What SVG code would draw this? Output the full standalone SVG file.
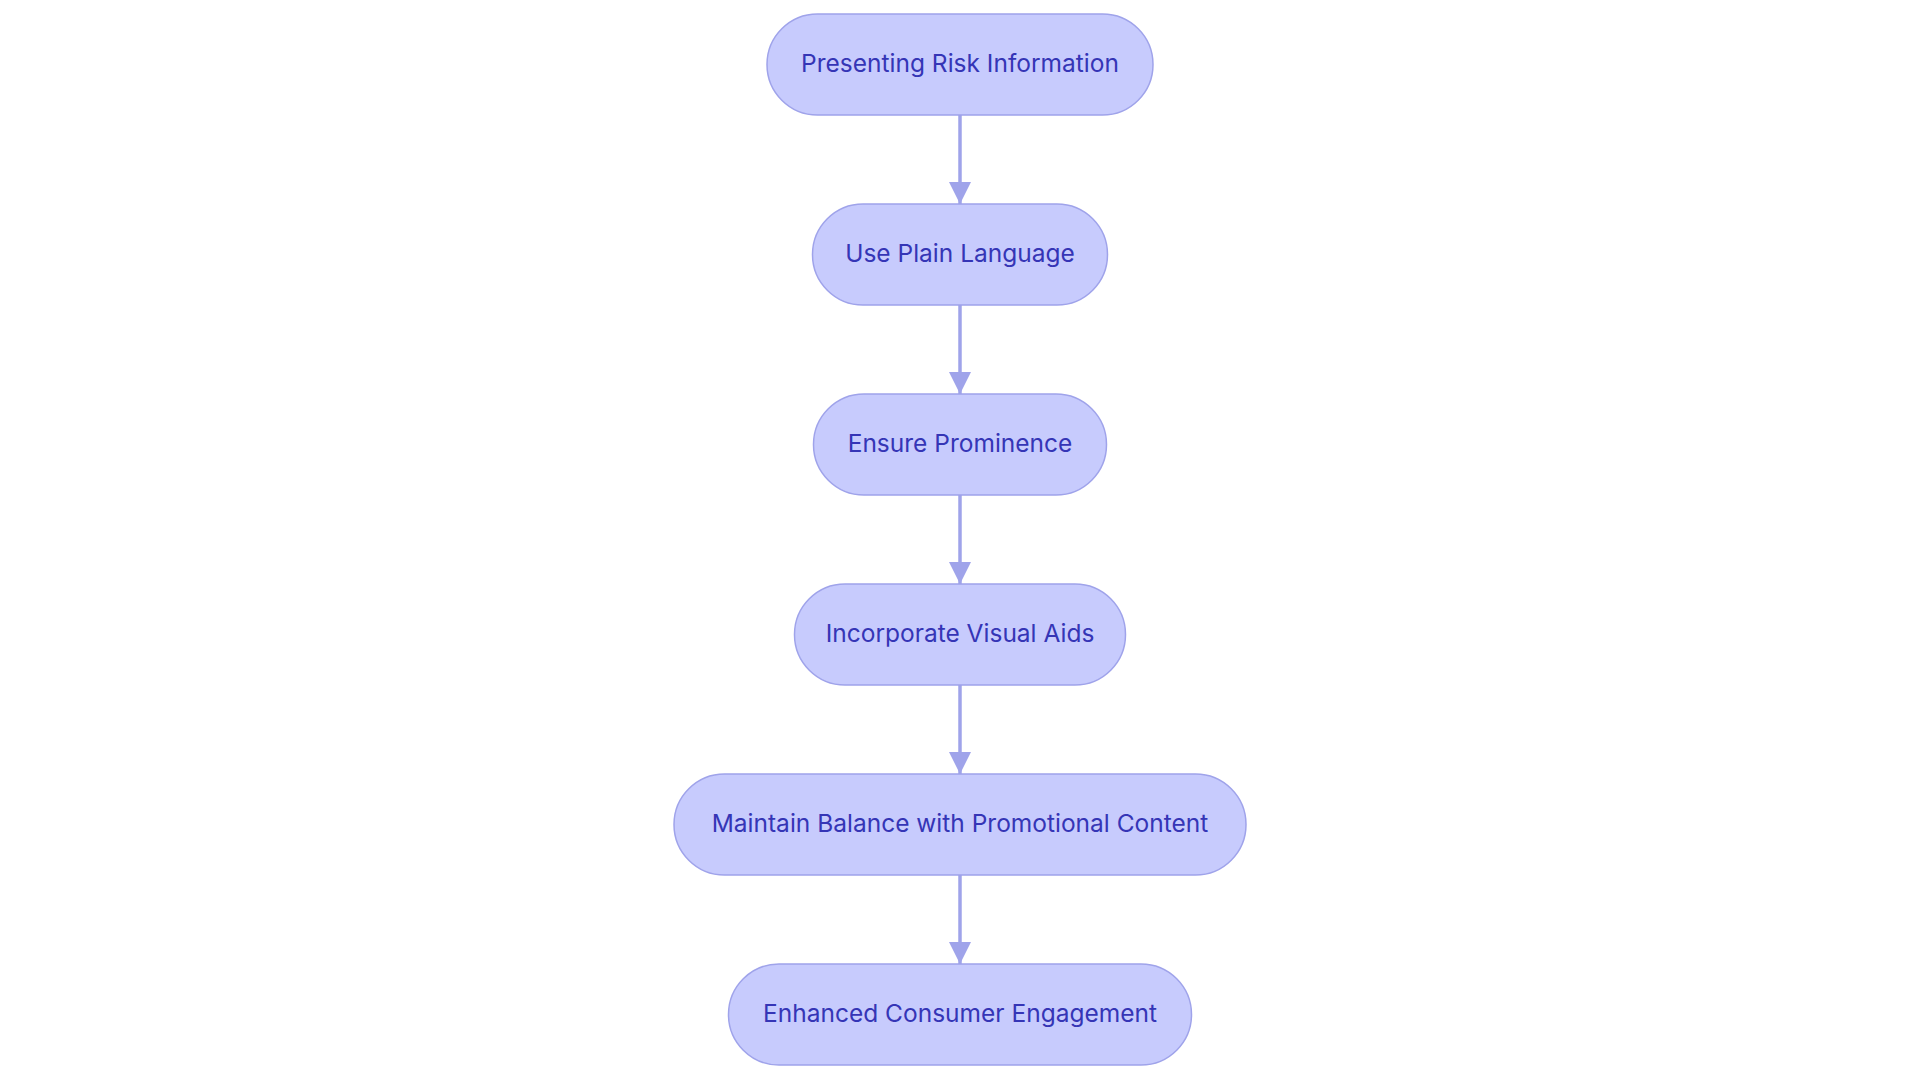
<svg xmlns="http://www.w3.org/2000/svg" width="1920" height="1083" viewBox="0 0 1920 1083">
<defs>
<style>
.node rect{fill:#c7cbfd;stroke:#9fa3ea;stroke-width:1.5}
.node text{font-family:Inter,"Noto Sans",sans-serif;font-size:24.5px;fill:#3535b6;text-anchor:middle;dominant-baseline:central}
.edge{stroke:#9fa3ea;stroke-width:3.5;fill:none}
</style>
<marker id="arr" viewBox="0 0 22 22" refX="22" refY="11" markerWidth="22" markerHeight="22" markerUnits="userSpaceOnUse" orient="auto">
<path d="M0,0 L22,11 L0,22 z" fill="#9fa3ea"/>
</marker>
</defs>
<rect width="1920" height="1083" fill="#ffffff"/>
<g id="edges">
<line class="edge" x1="960" y1="115" x2="960" y2="204" marker-end="url(#arr)"/>
<line class="edge" x1="960" y1="305" x2="960" y2="394" marker-end="url(#arr)"/>
<line class="edge" x1="960" y1="495" x2="960" y2="584" marker-end="url(#arr)"/>
<line class="edge" x1="960" y1="685" x2="960" y2="774" marker-end="url(#arr)"/>
<line class="edge" x1="960" y1="875" x2="960" y2="964" marker-end="url(#arr)"/>
</g>
<g id="n1" class="node"><rect x="767" y="14" width="386" height="101" rx="50.5"/><text x="960" y="62.5">Presenting Risk Information</text></g>
<g id="n2" class="node"><rect x="812.5" y="204" width="295" height="101" rx="50.5"/><text x="960" y="252.5">Use Plain Language</text></g>
<g id="n3" class="node"><rect x="813.5" y="394" width="293" height="101" rx="50.5"/><text x="960" y="442.5">Ensure Prominence</text></g>
<g id="n4" class="node"><rect x="794.5" y="584" width="331" height="101" rx="50.5"/><text x="960" y="632.5">Incorporate Visual Aids</text></g>
<g id="n5" class="node"><rect x="674" y="774" width="572" height="101" rx="50.5"/><text x="960" y="822.5">Maintain Balance with Promotional Content</text></g>
<g id="n6" class="node"><rect x="728.5" y="964" width="463" height="101" rx="50.5"/><text x="960" y="1012.5">Enhanced Consumer Engagement</text></g>
</svg>
